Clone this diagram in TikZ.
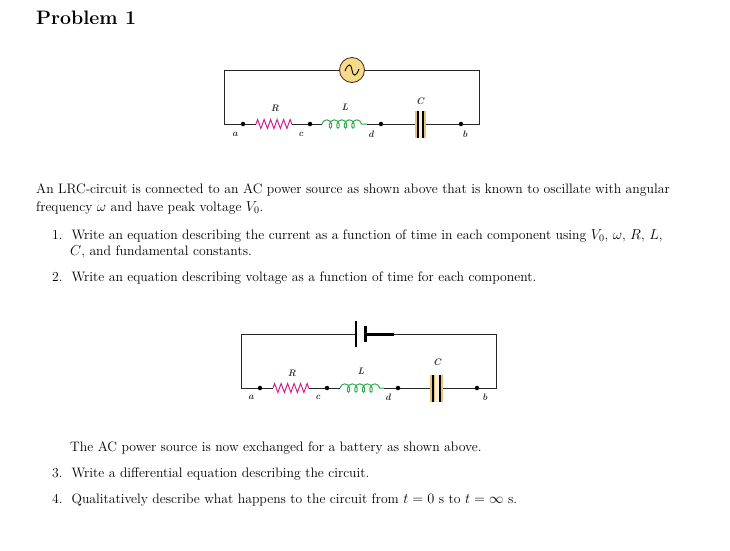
\documentclass[tikz,border=0pt]{standalone}
\usetikzlibrary{decorations.pathmorphing}
\definecolor{resc}{HTML}{D6208E}
\definecolor{indc}{HTML}{2EAA4A}
\definecolor{capc}{HTML}{E6C27A}
\definecolor{srcf}{HTML}{F7D98A}
\begin{document}
\begin{tikzpicture}[x=1pt,y=-1pt,
  wire/.style={line width=1pt,black!85},
  dot/.style={circle,fill=black,inner sep=0pt,minimum size=4.5pt},
  res/.style={resc,line width=1pt,decorate,decoration={zigzag,amplitude=4.5pt,segment length=6.5pt}},
  ind/.style={indc,line width=1pt,decorate,decoration={coil,aspect=0.7,amplitude=4.2pt,segment length=7.5pt}},
  lab/.style={font=\fontsize{9.5}{10}\selectfont\bfseries\itshape,inner sep=0pt,text=black!80},
  txt/.style={anchor=west,inner sep=0pt,font=\fontsize{13.7}{16}\selectfont}]
\useasboundingbox (0,0) rectangle (730,550);
\node[anchor=west,inner sep=0pt,font=\fontsize{19.5}{22}\selectfont\bfseries] (title) at (36,18) {Problem 1};
% circuit 1
\node[circle,draw=black!70!brown,fill=srcf,line width=0.8pt,minimum size=25pt,inner sep=0pt] (src) at (352,70) {};
\draw[line width=0.9pt] (345,71) .. controls (348,63) and (351,63) .. (352,70) .. controls (353,77) and (356,77) .. (359,69);
\node[dot] (a1) at (243,124) {};
\node[dot] (c1) at (310,124) {};
\node[dot] (d1) at (381,124) {};
\node[dot] (b1) at (461,124) {};
\coordinate (tl1) at (224,70); \coordinate (tr1) at (479,70);
\coordinate (bl1) at (224,124); \coordinate (br1) at (479,124);
\draw[wire] (src) -- (tl1) -- (bl1) -- (a1) -- (256,124);
\draw[wire] (src) -- (tr1) -- (br1) -- (b1) -- (423,124);
\draw[res] (256,124) -- (292,124);
\draw[wire] (292,124) -- (c1) -- (322,124);
\draw[ind] (322,124) -- (367,124);
\draw[wire] (367,124) -- (d1) -- (418,124);
\fill[capc] (415,111) rectangle (426,138);
\fill[white!70!capc] (419,111) rectangle (422,138);
\draw[line width=1.2pt] (418,111) -- (418,138) (423,111) -- (423,138);
\node[lab] at (275,108) {R};
\node[lab] at (345,107) {L};
\node[lab] at (420,101) {C};
\node[lab] at (235,134) {a};
\node[lab] at (301,134) {c};
\node[lab] at (371,134) {d};
\node[lab] at (465,134) {b};
% text
\node[txt] (t1) at (36,190) {An LRC-circuit is connected to an AC power source as shown above that is known to oscillate with angular};
\node[txt] (t2) at (36,208) {frequency $\omega$ and have peak voltage $V_0$.};
\node[txt] (t3) at (52,236) {1.\ \ Write an equation describing the current as a function of time in each component using $V_0$, $\omega$, $R$, $L$,};
\node[txt] (t4) at (70,252) {$C$, and fundamental constants.};
\node[txt] (t5) at (52,278) {2.\ \ Write an equation describing voltage as a function of time for each component.};
% circuit 2
\node[dot] (a2) at (260,388) {};
\node[dot] (c2) at (327,388) {};
\node[dot] (d2) at (398,388) {};
\node[dot] (b2) at (477,388) {};
\coordinate (tl2) at (241,334); \coordinate (tr2) at (496,334);
\coordinate (bl2) at (241,388); \coordinate (br2) at (496,388);
\draw[wire] (356,334) -- (tl2) -- (bl2) -- (a2) -- (273,388);
\draw[wire] (394,334) -- (tr2) -- (br2) -- (b2) -- (440,388);
\draw[line width=2pt] (356,321) -- (356,347);
\draw[line width=3pt] (365,326) -- (365,342);
\draw[line width=3pt] (365,334) -- (394,334);
\draw[res] (273,388) -- (309,388);
\draw[wire] (309,388) -- (c2) -- (340,388);
\draw[ind] (340,388) -- (384,388);
\draw[wire] (384,388) -- (d2) -- (433,388);
\fill[capc] (430,375) rectangle (443,402);
\fill[white!70!capc] (434.5,375) rectangle (438.5,402);
\draw[line width=1.2pt] (433,375) -- (433,402) (440,375) -- (440,402);
\node[lab] at (292,373) {R};
\node[lab] at (361,371) {L};
\node[lab] at (437,362) {C};
\node[lab] at (251,397) {a};
\node[lab] at (318,397) {c};
\node[lab] at (388,397) {d};
\node[lab] at (485,397) {b};
\node[txt] (t6) at (70,448) {The AC power source is now exchanged for a battery as shown above.};
\node[txt] (t7) at (52,474) {3.\ \ Write a differential equation describing the circuit.};
\node[txt] (t8) at (52,500) {4.\ \ Qualitatively describe what happens to the circuit from $t=0$ s to $t=\infty$ s.};
\end{tikzpicture}
\end{document}
